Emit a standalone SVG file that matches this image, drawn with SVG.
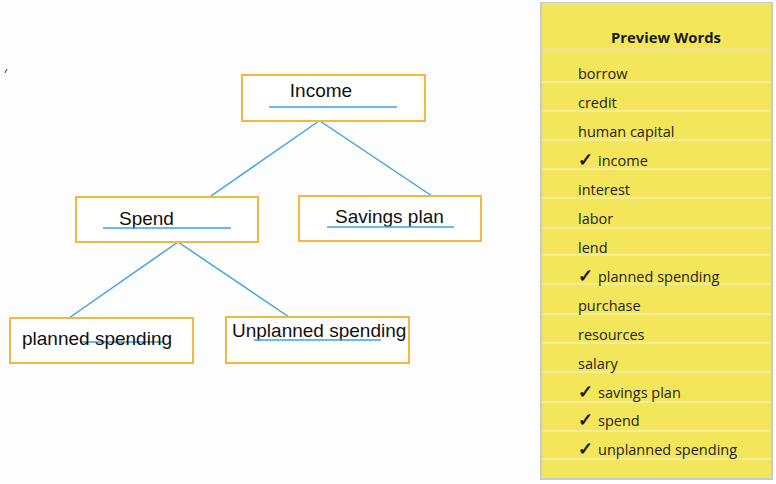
<svg xmlns="http://www.w3.org/2000/svg" width="776" height="484" viewBox="0 0 776 484">
<style>
.box{fill:#fff;stroke:#f4b840;stroke-width:2}
.lbl{font-family:"Liberation Sans",Arial,sans-serif;font-size:19px;fill:#111}
.ul{stroke:#3aa6d8;stroke-width:1.5}
.conn line{stroke:#3aa6d8;stroke-width:1.5}
.rule{stroke:#f2efb0;stroke-width:1.3}
.w{font-family:"Open Sans",sans-serif;font-size:14.5px;fill:#24241c}
.ck{font-family:"DejaVu Sans",sans-serif;font-size:18px;fill:#111;stroke:#111;stroke-width:0.6}
</style>
<rect width="776" height="484" fill="#fdfdfd"/>
<line x1="5" y1="73" x2="7" y2="69" stroke="#333" stroke-width="1"/>
<g class="conn" id="connectors">
<line x1="319" y1="121" x2="211" y2="196"/>
<line x1="320" y1="121" x2="432" y2="196"/>
<line x1="178" y1="242" x2="69" y2="318"/>
<line x1="178" y1="242" x2="289" y2="317"/>
</g>
<g id="income">
<rect class="box" x="242" y="75" width="183" height="46"/>
<text class="lbl" x="321" y="97" text-anchor="middle">Income</text>
<line class="ul" x1="269" y1="107" x2="397" y2="107"/>
</g>
<g id="spend">
<rect class="box" x="76" y="197" width="182" height="45"/>
<text class="lbl" x="119" y="225">Spend</text>
<line class="ul" x1="103" y1="228" x2="231" y2="228"/>
</g>
<g id="savings">
<rect class="box" x="299" y="196" width="182" height="45"/>
<text class="lbl" x="335" y="223">Savings plan</text>
<line class="ul" x1="327" y1="227" x2="454" y2="227"/>
</g>
<g id="planned">
<rect class="box" x="10" y="318" width="183" height="45"/>
<line class="ul" x1="80" y1="342" x2="163" y2="342"/>
<text class="lbl" x="22" y="345">planned spending</text>
</g>
<g id="unplanned">
<rect class="box" x="226" y="317" width="183" height="46"/>
<text class="lbl" x="232" y="337">Unplanned spending</text>
<line class="ul" x1="254" y1="340" x2="381" y2="340"/>
</g>
<g id="preview-words">
<rect x="540" y="2" width="233" height="478" fill="#c3ccd2"/>
<rect x="542" y="3" width="229" height="475" fill="#f4e65a"/>
<text x="666" y="43" text-anchor="middle" font-family="'Open Sans',sans-serif" font-weight="bold" font-size="14.8" fill="#1a1a14">Preview Words</text>
<g class="rule">
<line x1="542" y1="50" x2="771" y2="50" stroke="#eadcc0"/>
<line x1="542" y1="82" x2="771" y2="82"/>
<line x1="542" y1="111" x2="771" y2="111"/>
<line x1="542" y1="140" x2="771" y2="140"/>
<line x1="542" y1="169" x2="771" y2="169"/>
<line x1="542" y1="198" x2="771" y2="198"/>
<line x1="542" y1="228" x2="771" y2="228"/>
<line x1="542" y1="255" x2="771" y2="255"/>
<line x1="542" y1="284" x2="771" y2="284"/>
<line x1="542" y1="314" x2="771" y2="314"/>
<line x1="542" y1="343" x2="771" y2="343"/>
<line x1="542" y1="372" x2="771" y2="372"/>
<line x1="542" y1="402" x2="771" y2="402"/>
<line x1="542" y1="431" x2="771" y2="431"/>
<line x1="542" y1="459" x2="771" y2="459"/>
</g>
<text class="w" x="578" y="79">borrow</text>
<text class="w" x="578" y="108">credit</text>
<text class="w" x="578" y="137">human capital</text>
<text class="w" x="578" y="166"><tspan class="ck">✓</tspan><tspan x="598">income</tspan></text>
<text class="w" x="578" y="195">interest</text>
<text class="w" x="578" y="224">labor</text>
<text class="w" x="578" y="253">lend</text>
<text class="w" x="578" y="282"><tspan class="ck">✓</tspan><tspan x="598">planned spending</tspan></text>
<text class="w" x="578" y="311">purchase</text>
<text class="w" x="578" y="340">resources</text>
<text class="w" x="578" y="369">salary</text>
<text class="w" x="578" y="398"><tspan class="ck">✓</tspan><tspan x="598">savings plan</tspan></text>
<text class="w" x="578" y="426"><tspan class="ck">✓</tspan><tspan x="598">spend</tspan></text>
<text class="w" x="578" y="455"><tspan class="ck">✓</tspan><tspan x="598">unplanned spending</tspan></text>
</g>
</svg>
